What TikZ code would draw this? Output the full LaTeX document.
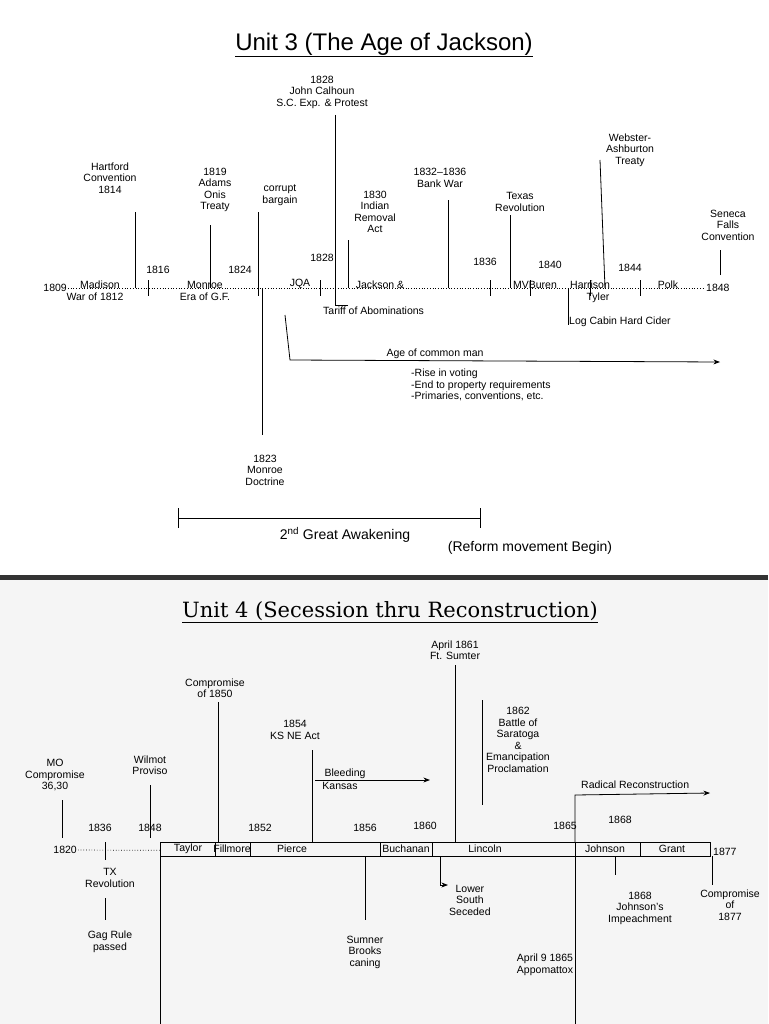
\documentclass[tikz,border=0pt]{standalone}
\usepackage{fontspec}
\setmainfont{Liberation Sans}
\newfontfamily\slab{DejaVu Serif}
\usetikzlibrary{arrows.meta}
\begin{document}
\begin{tikzpicture}[x=1pt,y=-1pt,
 lbl/.style={font=\fontsize{10.5}{11.5}\selectfont,align=center,inner sep=1pt},
 ln/.style={line width=0.8pt},
 tl/.style={line width=0.7pt,dotted}]
\useasboundingbox (0,0) rectangle (768,1024);
\fill[white] (0,0) rectangle (768,575);
\fill[gray!8] (0,580) rectangle (768,1024);
\fill[black!80] (0,575) rectangle (768,580);
% ---------- Unit 3
\node[font=\fontsize{24}{26}\selectfont] (t3) at (384,45) {\underline{Unit 3 (The Age of Jackson)}};
\node[lbl,anchor=east] (y1809) at (68,288) {1809};
\node[lbl,anchor=west] (y1848) at (705,288) {1848};
\draw[tl] (y1809) -- (y1848);
% up lines
\coordinate (a1) at (135,288); \node[lbl] (hart) at (110,178) {Hartford\\Convention\\1814}; \draw[ln] (a1) -- (135,212);
\coordinate (a2) at (210,288); \node[lbl] (ao) at (215,190) {1819\\Adams\\Onis\\Treaty}; \draw[ln] (a2) -- (210,225);
\coordinate (a3) at (258,288); \node[lbl] (cb) at (280,195) {corrupt\\bargain}; \draw[ln] (a3) -- (258,212);
\node[lbl] (cal) at (322,92) {1828\\John Calhoun\\S.C. Exp. \& Protest};
\draw[ln] (335,115) -- (335,305);
\node[lbl,anchor=north west] (tar) at (322,306) {Tariff of Abominations};
\draw[ln] (348,305) -- (335,305);
\coordinate (a4) at (348,288); \node[lbl] (ind) at (375,212) {1830\\Indian\\Removal\\Act}; \draw[ln] (a4) -- (348,240);
\node[lbl] (bw) at (440,178) {1832--1836\\Bank War}; \draw[ln] (448,288) -- (448,200);
\node[lbl] (tex) at (520,202) {Texas\\Revolution}; \draw[ln] (510,288) -- (510,215);
\node[lbl] (wa) at (630,150) {Webster-\\Ashburton\\Treaty}; \draw[ln] (605,288) -- (600,160);
\node[lbl] (sf) at (728,225) {Seneca\\Falls\\Convention}; \draw[ln] (720,275) -- (720,250);
% ticks and labels on the line
\foreach \x in {148,258,320,490,530,590,640}{\draw[ln] (\x,280) -- (\x,296);}
\node[lbl] at (158,270) {1816};
\node[lbl] at (240,270) {1824};
\node[lbl] at (322,258) {1828};
\node[lbl] at (485,262) {1836};
\node[lbl] at (550,265) {1840};
\node[lbl] at (630,268) {1844};
\node[lbl,anchor=south] at (100,290) {Madison};
\node[lbl,anchor=north] at (95,292) {War of 1812};
\node[lbl,anchor=south] at (205,290) {Monroe};
\node[lbl,anchor=north] at (205,292) {Era of G.F.};
\node[lbl,anchor=south] at (300,290) {JQA};
\node[lbl,anchor=south] at (380,290) {Jackson \&};
\node[lbl,anchor=south] at (535,290) {MVBuren};
\node[lbl,anchor=south] at (590,290) {Harrison};
\node[lbl,anchor=north] at (598,292) {Tyler};
\node[lbl,anchor=south] at (668,290) {Polk};
\draw[ln] (568,288) -- (568,325);
\node[lbl,anchor=west] (lc) at (568,322) {Log Cabin Hard Cider};
\draw[ln] (262,288) -- (262,435);
\node[lbl] (md) at (265,470) {1823\\Monroe\\Doctrine};
\draw[ln,-{Stealth}] (285,315) -- (290,360) -- (720,362);
\node[lbl,anchor=south] at (435,360) {Age of common man};
\node[lbl,anchor=north west,align=left] at (410,368) {-Rise in voting\\-End to property requirements\\-Primaries, conventions, etc.};
\draw[ln] (178,508) -- (178,528); \draw[ln] (480,508) -- (480,528);
\draw[ln] (178,518) -- (480,518);
\node[lbl,font=\fontsize{14}{16}\selectfont] at (345,535) {2\textsuperscript{nd} Great Awakening};
\node[lbl,font=\fontsize{14}{16}\selectfont] at (530,548) {(Reform movement Begin)};
% ---------- Unit 4
\node[font=\slab\fontsize{21}{24}\selectfont] (t4) at (390,612) {\underline{Unit 4 (Secession thru Reconstruction)}};
\node[lbl,anchor=east] (y1820) at (78,850) {1820};
\node[lbl,anchor=west] (y1877) at (712,852) {1877};
\draw[tl] (y1820) -- (y1877);
\draw[ln,fill=gray!8] (160,842) rectangle (710,856);
\foreach \x in {215,250,380,432,575,640}{\draw[ln] (\x,842) -- (\x,856);}
\node[lbl] at (188,849) {Taylor};
\node[lbl] at (232,849) {Fillmore};
\node[lbl] at (292,849) {Pierce};
\node[lbl] at (406,849) {Buchanan};
\node[lbl] at (485,849) {Lincoln};
\node[lbl] at (605,849) {Johnson};
\node[lbl] at (672,849) {Grant};
\node[lbl] at (100,828) {1836};
\node[lbl] at (150,828) {1848};
\node[lbl] at (260,828) {1852};
\node[lbl] at (365,828) {1856};
\node[lbl] at (425,826) {1860};
\node[lbl] at (565,826) {1865};
\node[lbl] at (620,820) {1868};
\node[lbl] at (55,775) {MO\\Compromise\\36,30}; \draw[ln] (62,800) -- (62,838);
\node[lbl] at (150,765) {Wilmot\\Proviso}; \draw[ln] (150,785) -- (150,838);
\node[lbl] at (215,688) {Compromise\\of 1850}; \draw[ln] (218,702) -- (218,842);
\node[lbl] at (295,730) {1854\\KS NE Act}; \draw[ln] (312,750) -- (312,842);
\node[lbl] at (455,650) {April 1861\\Ft. Sumter}; \draw[ln] (455,665) -- (455,842);
\node[lbl] at (518,740) {1862\\Battle of\\Saratoga\\\&\\Emancipation\\Proclamation}; \draw[ln] (482,700) -- (482,805);
\draw[ln,-{Stealth}] (315,780) -- (430,780);
\node[lbl,anchor=south] at (345,780) {Bleeding};
\node[lbl,anchor=north] at (340,781) {Kansas};
\draw[ln,-{Stealth}] (575,842) -- (575,795) -- (710,793);
\node[lbl,anchor=south west] at (580,790) {Radical Reconstruction};
\draw[ln] (105,842) -- (105,860);
\node[lbl] at (110,878) {TX\\Revolution};
\draw[ln] (105,898) -- (105,920);
\node[lbl] at (110,942) {Gag Rule\\passed};
\draw[ln] (160,856) -- (160,1024);
\draw[ln] (365,856) -- (365,920);
\node[lbl] at (365,952) {Sumner\\Brooks\\caning};
\draw[ln,-{Stealth}] (440,856) -- (440,885) -- (448,885);
\node[lbl,anchor=west] at (448,900) {Lower\\South\\Seceded};
\draw[ln] (575,856) -- (575,1024);
\node[lbl] at (545,965) {April 9 1865\\Appomattox};
\draw[ln] (615,856) -- (615,875);
\node[lbl] at (640,908) {1868\\Johnson's\\Impeachment};
\node[lbl] at (730,905) {Compromise\\of\\1877};
\draw[ln] (712,856) -- (712,885);
\end{tikzpicture}
\end{document}
